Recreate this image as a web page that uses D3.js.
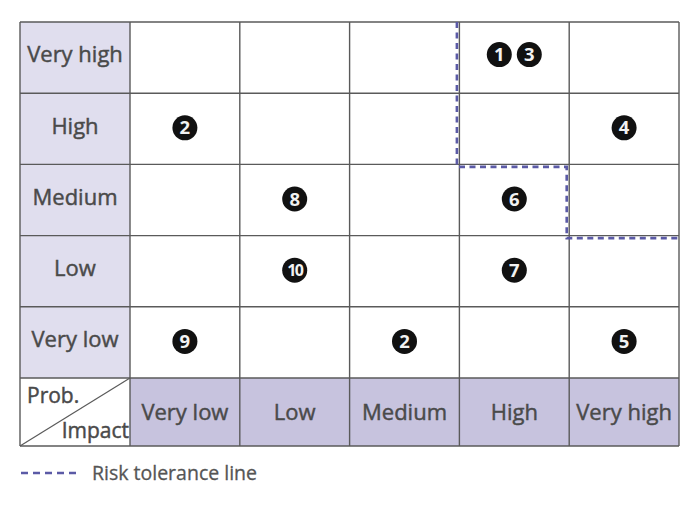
<!DOCTYPE html>
<html>
<head>
<meta charset="utf-8">
<script src="https://cdn.jsdelivr.net/npm/d3@7"></script>
<style>
  html, body { margin: 0; padding: 0; background: #fff; }
  svg { display: block; }
</style>
</head>
<body>
<svg id="chart" width="700" height="510"></svg>
<script>
// ---- data ----
const impactLevels = ["Very low", "Low", "Medium", "High", "Very high"];
const probLevels = ["Very high", "High", "Medium", "Low", "Very low"];

const riskIds    = ["1", "3", "2", "4", "8", "6", "10", "7", "9", "2", "5"];
const riskProb   = ["Very high", "Very high", "High", "High", "Medium", "Medium", "Low", "Low", "Very low", "Very low", "Very low"];
const riskImpact = ["High", "High", "Very low", "Very high", "Low", "High", "Low", "High", "Very low", "Medium", "Very high"];

// risk tolerance line: for each impact column, the lowest probability row still above the line
const toleranceImpact = ["High", "Very high"];
const toleranceProb   = ["High", "Medium"];

const cornerLabels = ["Prob.", "Impact"];
const legendLabel = "Risk tolerance line";

// ---- layout ----
const svg = d3.select("#chart");
const gLeft = 20, gRight = 679, gTop = 22, gridBottom = 378, gBottom = 446;
const headerW = 110;

const x = d3.scaleBand().domain(impactLevels).range([gLeft + headerW, gRight]);
const y = d3.scaleBand().domain(probLevels).range([gTop, gridBottom]);

const textColor = "#4a4a4a";
const lineColor = "#5a5a5a";
const rowHeadFill = "#e0deee";
const colHeadFill = "#c7c3de";
const dashColor = "#5b5aa6";
const font = "'Open Sans', 'Noto Sans', sans-serif";
const labelSize = 22, labelWeight = 400, labelStroke = 0.45;

function styleLabel(sel, size) {
  sel.attr("font-family", font).attr("font-weight", labelWeight).attr("font-size", size)
    .attr("fill", textColor).attr("stroke", textColor).attr("stroke-width", labelStroke);
}

// row header cells
svg.append("g").selectAll("rect").data(probLevels).join("rect")
  .attr("x", gLeft).attr("y", d => y(d))
  .attr("width", headerW).attr("height", y.bandwidth())
  .attr("fill", rowHeadFill);

// column header cells
svg.append("g").selectAll("rect").data(impactLevels).join("rect")
  .attr("x", d => x(d)).attr("y", gridBottom)
  .attr("width", x.bandwidth()).attr("height", gBottom - gridBottom)
  .attr("fill", colHeadFill);

// grid lines
const grid = svg.append("g").attr("stroke", lineColor).attr("stroke-width", 1.4);
const vx = [gLeft, gLeft + headerW].concat(impactLevels.map(d => x(d) + x.bandwidth()));
grid.selectAll("line.v").data(vx).join("line").attr("class", "v")
  .attr("x1", d => d).attr("x2", d => d).attr("y1", gTop).attr("y2", gBottom);
const hy = [gTop].concat(probLevels.map(d => y(d) + y.bandwidth())).concat([gBottom]);
grid.selectAll("line.h").data(hy).join("line").attr("class", "h")
  .attr("x1", gLeft).attr("x2", gRight).attr("y1", d => d).attr("y2", d => d);

// corner diagonal
svg.append("line")
  .attr("x1", gLeft).attr("y1", gBottom).attr("x2", gLeft + headerW).attr("y2", gridBottom)
  .attr("stroke", lineColor).attr("stroke-width", 1.2);
svg.append("text").text(cornerLabels[0])
  .attr("x", gLeft + 7).attr("y", gridBottom + 25)
  .call(styleLabel, 21);
svg.append("text").text(cornerLabels[1])
  .attr("x", gLeft + headerW - 1).attr("y", gBottom - 8).attr("text-anchor", "end")
  .call(styleLabel, 21);

// row labels
svg.append("g").selectAll("text").data(probLevels).join("text")
  .text(d => d)
  .attr("x", gLeft + headerW / 2).attr("y", d => y(d) + y.bandwidth() / 2 - 3)
  .attr("dy", "0.35em").attr("text-anchor", "middle")
  .call(styleLabel, labelSize);

// column labels
svg.append("g").selectAll("text").data(impactLevels).join("text")
  .text(d => d)
  .attr("x", d => x(d) + x.bandwidth() / 2).attr("y", (gridBottom + gBottom) / 2)
  .attr("dy", "0.35em").attr("text-anchor", "middle")
  .call(styleLabel, labelSize);

// tolerance line (step path, slightly offset from grid)
const off = 2.5;
const pts = [];
toleranceImpact.forEach((imp, i) => {
  const cx0 = x(imp) - off;
  const py = y(toleranceProb[i]) + y.bandwidth() + off;
  if (i === 0) pts.push([cx0, gTop]);
  else pts.push([cx0, pts[pts.length - 1][1]]);
  pts.push([cx0, py]);
  const next = i + 1 < toleranceImpact.length ? x(toleranceImpact[i + 1]) - off : gRight;
  pts.push([next, py]);
});
svg.append("path")
  .attr("d", d3.line()(pts))
  .attr("fill", "none").attr("stroke", dashColor).attr("stroke-width", 2.6)
  .attr("stroke-dasharray", "6,4.5");

// risk markers
const risks = riskIds.map((id, i) => ({ id, prob: riskProb[i], impact: riskImpact[i] }));
const groups = d3.group(risks, d => d.prob + "|" + d.impact);
const placed = [];
groups.forEach(arr => {
  arr.forEach((d, k) => {
    const spread = 30;
    const dx = (k - (arr.length - 1) / 2) * spread;
    const dy = arr.length > 1 ? -2 : 0;
    placed.push({ ...d, cx: x(d.impact) + x.bandwidth() / 2 + dx, cy: y(d.prob) + y.bandwidth() / 2 - 1 + dy });
  });
});
const mk = svg.append("g").selectAll("g").data(placed).join("g")
  .attr("transform", d => `translate(${d.cx},${d.cy})`);
mk.append("circle").attr("r", 12.5).attr("fill", "#111");
mk.append("text").text(d => d.id)
  .attr("text-anchor", "middle").attr("dy", "0.36em")
  .attr("font-family", font).attr("font-weight", "bold")
  .attr("font-size", d => d.id.length > 1 ? 16 : 18.5)
  .attr("letter-spacing", d => d.id.length > 1 ? -1.8 : 0)
  .attr("fill", "#f2f2f2");

// legend
const lg = svg.append("g");
lg.append("line")
  .attr("x1", gLeft + 1).attr("x2", gLeft + 60).attr("y1", 473).attr("y2", 473)
  .attr("stroke", dashColor).attr("stroke-width", 2.4).attr("stroke-dasharray", "7,5");
lg.append("text").text(legendLabel)
  .attr("x", gLeft + 72).attr("y", 473).attr("dy", "0.35em")
  .attr("font-family", font).attr("font-weight", 400).attr("font-size", 19.5)
  .attr("fill", "#555").attr("stroke", "#555").attr("stroke-width", 0.3);
</script>
</body>
</html>
